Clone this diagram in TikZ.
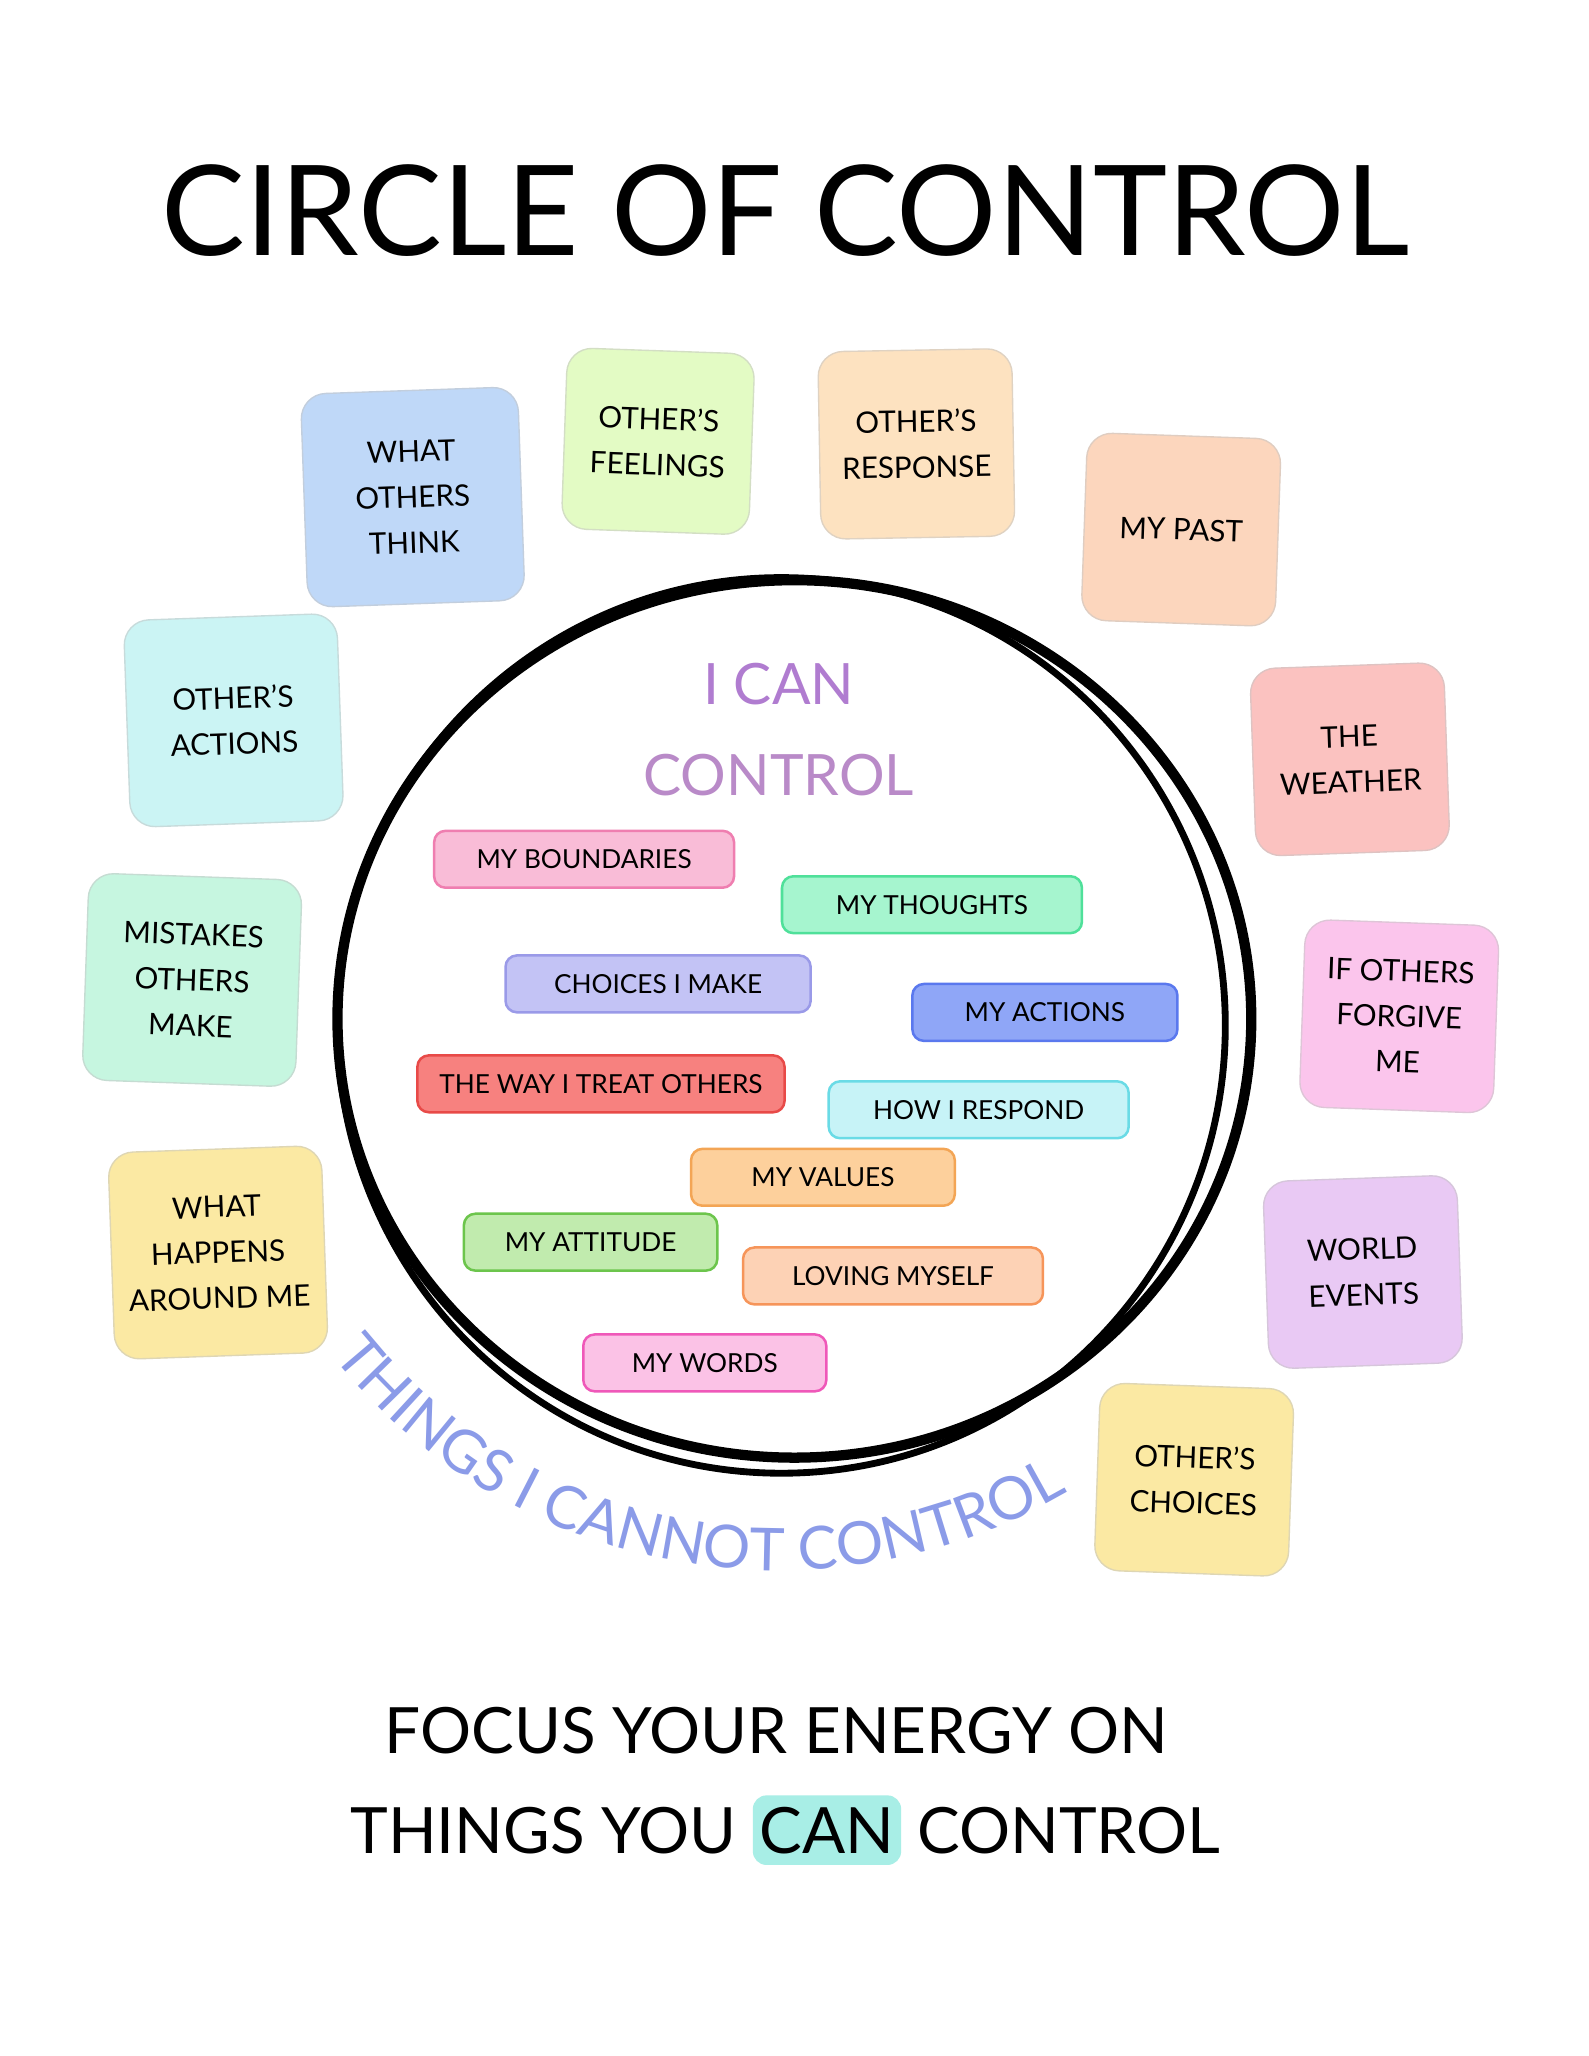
\documentclass[tikz,border=0pt]{standalone}
\usepackage{fontspec}
\setmainfont{Lato}
\usetikzlibrary{decorations.text}
\definecolor{blueA}{HTML}{BFD8F8}
\definecolor{greenA}{HTML}{E3FBC4}
\definecolor{peachA}{HTML}{FDE2C0}
\definecolor{peachB}{HTML}{FCD6BD}
\definecolor{redA}{HTML}{FBC2C0}
\definecolor{pinkA}{HTML}{FBC5EC}
\definecolor{lilacA}{HTML}{E9C9F4}
\definecolor{yellowA}{HTML}{FBE9A3}
\definecolor{mintA}{HTML}{C6F6E0}
\definecolor{cyanA}{HTML}{CBF4F4}
\definecolor{arcblue}{HTML}{8B9BE8}
\definecolor{canhl}{HTML}{A8EEE6}
\definecolor{icanA}{HTML}{B07CD0}
\definecolor{icanB}{HTML}{B98AC8}
\def\u{0.5669pt} % one picture unit
\tikzstyle{outer}=[draw=#1!80!black!60,fill=#1,line width=0.6pt,rounded corners=11pt,
                   minimum width=150*\u,minimum height=145*\u,align=center,font=\fontsize{13}{20}\selectfont]
\tikzstyle{pill}=[rounded corners=5pt,line width=1.1pt,minimum height=44*\u,inner xsep=4pt,
                  font=\fontsize{11.5}{13}\selectfont]
% pill: name, position, border colour, fill colour, width, text
\def\pill#1#2#3#4#5#6{%
  \definecolor{pd#1}{HTML}{#3}\definecolor{pf#1}{HTML}{#4}%
  \node[pill,draw=pd#1,fill=pf#1,minimum width=#5*\u] (#1) at #2 {#6};}
\begin{document}
\begin{tikzpicture}[x=0.02cm,y=0.02cm]
  \useasboundingbox (0,0) rectangle (1224,-1584);
  \fill[white] (0,0) rectangle (1224,-1584);

  % TITLE
  \node (title) at (605,-162) {\fontsize{55}{62}\selectfont CIRCLE OF CONTROL};

  % OUTER BOXES
  \node[outer=blueA,minimum width=168*\u,minimum height=165*\u,rotate=2] (think) at (318,-383) {WHAT\\OTHERS\\THINK};
  \node[outer=greenA,minimum width=145*\u,minimum height=140*\u,rotate=-2] (feel) at (507,-340) {OTHER'S\\FEELINGS};
  \node[outer=peachA,rotate=1] (resp) at (706,-342) {OTHER'S\\RESPONSE};
  \node[outer=peachB,rotate=-2] (past) at (910,-408) {MY PAST};
  \node[outer=redA,rotate=2] (weather) at (1040,-585) {THE\\WEATHER};
  \node[outer=pinkA,rotate=-2] (forgive) at (1078,-783) {IF OTHERS\\FORGIVE\\ME};
  \node[outer=lilacA,rotate=2] (world) at (1050,-980) {WORLD\\EVENTS};
  \node[outer=yellowA,rotate=-2] (choices) at (920,-1140) {OTHER'S\\CHOICES};
  \node[outer=yellowA,minimum width=165*\u,minimum height=160*\u,rotate=2] (around) at (168,-965) {WHAT\\HAPPENS\\AROUND ME};
  \node[outer=mintA,minimum width=165*\u,minimum height=160*\u,rotate=-2] (mistakes) at (148,-755) {MISTAKES\\OTHERS\\MAKE};
  \node[outer=cyanA,minimum width=165*\u,minimum height=160*\u,rotate=2] (actions) at (180,-555) {OTHER'S\\ACTIONS};

  % CIRCLE
  \draw[line width=4.5pt] (612,-785) ellipse (352 and 338);
  \draw[line width=3pt] (602,-790) ellipse (342 and 345);

  % I CAN CONTROL
  \node[text=icanA] (ican) at (600,-527) {\fontsize{25}{30}\selectfont I CAN};
  \node[text=icanB] (ctrl) at (600,-597) {\fontsize{25}{30}\selectfont CONTROL};

  % PILLS
  \pill{bound}{(450,-662)}{EF7EB0}{F9BCD7}{232}{MY BOUNDARIES}
  \pill{thoughts}{(718,-697)}{4FE09A}{A6F5CF}{232}{MY THOUGHTS}
  \pill{make}{(507,-758)}{9A9AE8}{C3C3F5}{236}{CHOICES I MAKE}
  \pill{myact}{(805,-780)}{5A78EE}{8FA6F7}{205}{MY ACTIONS}
  \pill{treat}{(463,-835)}{E84A48}{F7817F}{284}{THE WAY I TREAT OTHERS}
  \pill{respond}{(754,-855)}{6ADBE6}{C7F3F7}{232}{HOW I RESPOND}
  \pill{values}{(634,-907)}{F3A555}{FDD09C}{204}{MY VALUES}
  \pill{attitude}{(455,-957)}{6CC54C}{C1EBAE}{196}{MY ATTITUDE}
  \pill{loving}{(688,-983)}{F6955A}{FDD2B5}{232}{LOVING MYSELF}
  \pill{words}{(543,-1050)}{EF58B9}{FBC2E6}{188}{MY WORDS}

  % THINGS I CANNOT CONTROL
  \path[decorate,decoration={text along path,text align=center,
        text={|\fontsize{26}{28}\selectfont\color{arcblue}|THINGS I CANNOT CONTROL}}]
    (600,-770) ++(217:440) arc (217:302:440);

  % FOCUS LINE
  \node (focus) at (598,-1333) {\fontsize{28}{34}\selectfont FOCUS YOUR ENERGY ON};
  \node (things) at (605,-1410) {\fontsize{28}{34}\selectfont THINGS YOU
    \tikz[baseline=(c.base)]\node[fill=canhl,rounded corners=6pt,inner xsep=3pt,inner ysep=5pt] (c) {CAN};
    CONTROL};
\end{tikzpicture}
\end{document}
